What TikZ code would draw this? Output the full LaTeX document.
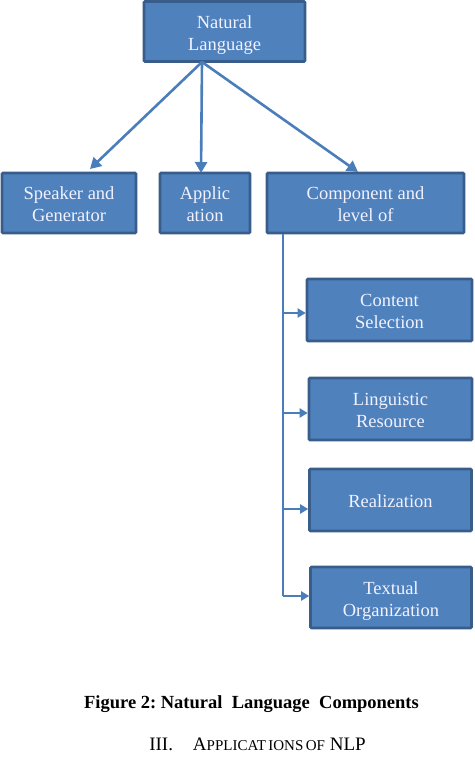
\documentclass[tikz,border=0pt]{standalone}
\usepackage{fontspec}
\setmainfont{Liberation Serif}
\usetikzlibrary{arrows.meta}
\definecolor{boxfill}{HTML}{4F81BD}
\definecolor{boxline}{HTML}{385D8A}
\definecolor{arrowc}{HTML}{4A7EBB}
\tikzset{
  box/.style={draw=boxline, line width=2.6pt, fill=boxfill, rounded corners=1pt,
    text=white!95!blue, font=\fontsize{18.5}{22}\selectfont, align=center,
    inner sep=0pt, text height=41.5pt, text depth=4pt},
  onebox/.style={box, text height=18.5pt, text depth=4pt},
  conn/.style={draw=arrowc, line width=2.6pt, -{Triangle[length=11pt,width=12pt]}},
  trunk/.style={draw=arrowc, line width=1.8pt},
  branch/.style={draw=arrowc, line width=2.2pt, -{Triangle[length=8pt,width=9pt]}},
}
\begin{document}
\begin{tikzpicture}[x=1pt,y=-1pt]
\useasboundingbox (0,0) rectangle (474,768);
\node[box, minimum width=161pt, minimum height=60pt] (nl) at (224.5,31.5) {Natural\\Language};
\node[box, minimum width=134pt, minimum height=60pt] (spk) at (69,203) {Speaker and\\Generator};
\node[box, minimum width=90pt, minimum height=60pt] (app) at (205,203) {Applic\\ation};
\node[box, minimum width=197pt, minimum height=60pt] (comp) at (365.5,203) {Component and\\level of};
\node[box, minimum width=165pt, minimum height=62pt] (cs) at (389.5,310) {Content\\Selection};
\node[box, minimum width=163pt, minimum height=62pt] (lr) at (390.5,409) {Linguistic\\Resource};
\node[onebox, minimum width=162pt, minimum height=62pt] (re) at (390.5,500) {Realization};
\node[box, minimum width=161pt, minimum height=61pt] (to) at (391,597.5) {Textual\\Organization};

\coordinate (o) at (202,62);
\coordinate (ts) at (90,169);
\coordinate (ta) at (201,173);
\coordinate (tc) at (358,172);
\draw[conn] (o) -- (ts);
\draw[conn] (o) -- (ta);
\draw[conn] (o) -- (tc);

\coordinate (t0) at (283,234);
\coordinate (b1) at (283,313);
\coordinate (b2) at (283,413);
\coordinate (b3) at (283,509);
\coordinate (b4) at (283,596);
\draw[trunk] (t0) -- (b4);
\draw[branch] (b1) -- (b1 -| cs.west);
\draw[branch] (b2) -- (b2 -| lr.west);
\draw[branch] (b3) -- (b3 -| re.west);
\draw[branch] (b4) -- (b4 -| to.west);

\node[font=\fontsize{18.5}{20}\selectfont\bfseries] (cap) at (251.5,704) {Figure 2:\ Natural\ \ Language\ \ Components};
\node[font=\fontsize{19}{20}\selectfont] (sec) at (257.5,744) {III.\hspace{20pt}A{\fontsize{15}{16}\selectfont PPLICAT\,IONS\,OF} NLP};
\end{tikzpicture}
\end{document}
